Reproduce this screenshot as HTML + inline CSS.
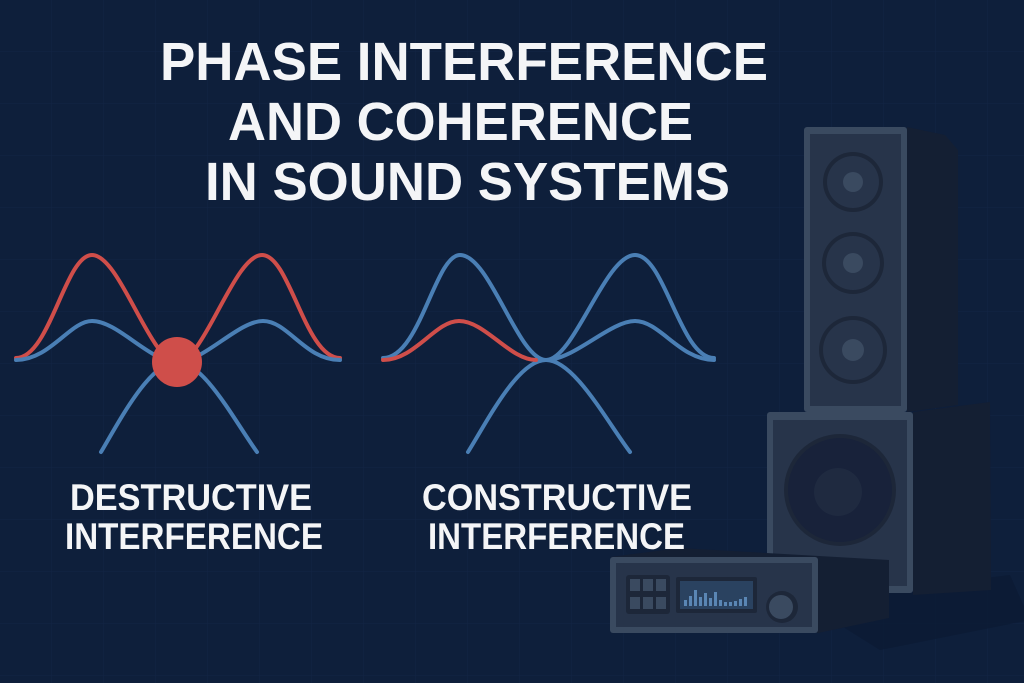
<!DOCTYPE html>
<html><head><meta charset="utf-8"><style>
html,body{margin:0;padding:0;background:#0e1f3b;}
svg{display:block;}
text{font-family:"Liberation Sans",sans-serif;font-weight:bold;fill:#f4f5f7;}
</style></head><body>
<svg width="1024" height="683" viewBox="0 0 1024 683" xmlns="http://www.w3.org/2000/svg">
<defs>
<pattern id="g" width="52" height="52" patternUnits="userSpaceOnUse">
<path d="M52 0V52M0 52H52" stroke="#16284a" stroke-width="1" fill="none"/>
</pattern>
</defs>
<rect width="1024" height="683" fill="#0e1f3b"/>
<rect width="1024" height="683" fill="url(#g)" opacity="0.6"/>

<text x="160" y="80" font-size="54" textLength="608" lengthAdjust="spacingAndGlyphs">PHASE INTERFERENCE</text>
<text x="228" y="140" font-size="54" textLength="465" lengthAdjust="spacingAndGlyphs">AND COHERENCE</text>
<text x="205" y="200" font-size="54" textLength="525" lengthAdjust="spacingAndGlyphs">IN SOUND SYSTEMS</text>

<g fill="none" stroke-width="4" stroke-linecap="round">
<path d="M16 358 C50 358 65 255 92 255 C120 255 150 362 177 362 C204 362 234 255 262 255 C290 255 305 358 340 358" stroke="#cf4e4a"/>
<path d="M16 360 C50 360 70 321 92 321 C118 321 150 362 177 362 C204 362 238 321 263 321 C288 321 305 360 340 360" stroke="#4a7fb5"/>
<path d="M101 452 C120 420 150 362 177 362 C204 362 234 420 257 452" stroke="#4a7fb5"/>
<path d="M383 358 C420 358 435 255 460 255 C490 255 518 360 546 360 C574 360 605 255 635 255 C665 255 680 358 714 358" stroke="#4a7fb5"/>
<path d="M546 360 C574 360 610 321 635 321 C660 321 680 360 714 360" stroke="#4a7fb5"/>
<path d="M468 452 C488 420 518 360 546 360 C574 360 606 420 630 452" stroke="#4a7fb5"/>
<path d="M383 360 C415 360 435 321 459 321 C485 321 510 360 536 360" stroke="#cf4e4a"/>
</g>
<circle cx="177" cy="362" r="25" fill="#cf4e4a"/>

<!-- shadow -->
<polygon points="800,600 1010,575 1030,620 880,650" fill="#0b1a33" opacity="0.7"/>
<!-- top speaker -->
<polygon points="907,127 945,135 958,150 958,405 907,412" fill="#141f33"/>
<rect x="804" y="127" width="103" height="285" rx="3" fill="#3a4a60"/>
<rect x="810" y="134" width="91" height="272" fill="#27344a"/>
<circle cx="853" cy="182" r="30" fill="#1d2739"/><circle cx="853" cy="182" r="26" fill="#27344a"/><circle cx="853" cy="182" r="10" fill="#3a4a60"/>
<circle cx="853" cy="263" r="31" fill="#1d2739"/><circle cx="853" cy="263" r="27" fill="#27344a"/><circle cx="853" cy="263" r="10" fill="#3a4a60"/>
<circle cx="853" cy="350" r="34" fill="#1d2739"/><circle cx="853" cy="350" r="30" fill="#27344a"/><circle cx="853" cy="350" r="11" fill="#3a4a60"/>
<!-- subwoofer -->
<polygon points="913,412 990,402 991,590 913,595" fill="#141f33"/>
<rect x="767" y="412" width="146" height="181" rx="3" fill="#3a4a60"/>
<rect x="773" y="420" width="134" height="166" fill="#27344a"/>
<circle cx="840" cy="490" r="56" fill="#1d2739"/>
<circle cx="840" cy="490" r="52" fill="#18223a"/>
<circle cx="838" cy="492" r="24" fill="#1f2a40"/>
<!-- amp -->
<polygon points="610,557 680,548 889,560 889,618 818,633" fill="#141f33"/>
<rect x="610" y="557" width="208" height="76" rx="3" fill="#3a4a60"/>
<rect x="616" y="563" width="196" height="64" fill="#27344a"/>
<rect x="626" y="575" width="44" height="39" rx="3" fill="#1d2739"/>
<g fill="#3a4a60">
<rect x="630" y="579" width="10" height="12"/><rect x="643" y="579" width="10" height="12"/><rect x="656" y="579" width="10" height="12"/>
<rect x="630" y="597" width="10" height="12"/><rect x="643" y="597" width="10" height="12"/><rect x="656" y="597" width="10" height="12"/>
</g>
<rect x="676" y="577" width="81" height="36" rx="2" fill="#1d2739"/>
<rect x="680" y="581" width="73" height="28" fill="#2a4260"/>
<g fill="#5a86b4">
<rect x="684" y="600" width="3" height="6"/><rect x="689" y="596" width="3" height="10"/><rect x="694" y="590" width="3" height="16"/><rect x="699" y="597" width="3" height="9"/><rect x="704" y="593" width="3" height="13"/><rect x="709" y="598" width="3" height="8"/><rect x="714" y="592" width="3" height="14"/><rect x="719" y="600" width="3" height="6"/><rect x="724" y="602" width="3" height="4"/><rect x="729" y="602" width="3" height="4"/><rect x="734" y="601" width="3" height="5"/><rect x="739" y="599" width="3" height="7"/><rect x="744" y="597" width="3" height="9"/>
</g>
<circle cx="782" cy="607" r="16" fill="#1d2739"/>
<circle cx="781" cy="607" r="12" fill="#3a4a60"/>

<text x="70" y="510" font-size="37" textLength="242" lengthAdjust="spacingAndGlyphs">DESTRUCTIVE</text>
<text x="65" y="549" font-size="37" textLength="258" lengthAdjust="spacingAndGlyphs">INTERFERENCE</text>
<text x="422" y="510" font-size="37" textLength="270" lengthAdjust="spacingAndGlyphs">CONSTRUCTIVE</text>
<text x="428" y="549" font-size="37" textLength="257" lengthAdjust="spacingAndGlyphs">INTERFERENCE</text>
</svg>
</body></html>
